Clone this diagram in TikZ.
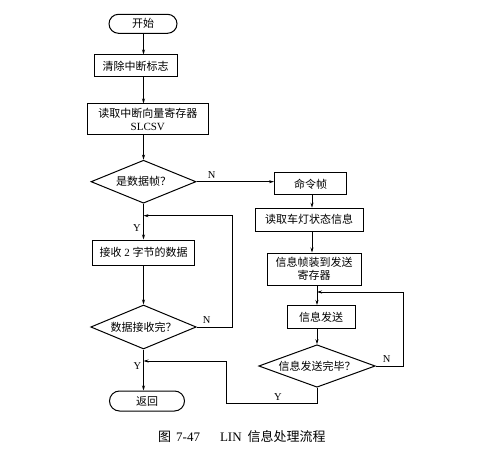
\documentclass[tikz,border=0pt]{standalone}
\usepackage{fontspec}
\setmainfont{Liberation Serif}
\newfontfamily\cjk{Noto Sans CJK SC}
\usetikzlibrary{shapes.geometric,arrows.meta}
\begin{document}
\begin{tikzpicture}[x=1pt,y=-1pt,
  font=\fontsize{11}{12.5}\selectfont,
  box/.style={draw,line width=1pt,inner sep=0pt,align=center},
  term/.style={draw,line width=1pt,rounded corners=9.5pt,inner sep=0pt},
  dia/.style={draw,diamond,line width=1pt,inner sep=0pt},
  conn/.style={line width=0.7pt},
  arr/.style={conn,-{Stealth[length=5pt,width=3pt]}},
  lab/.style={font=\fontsize{10.5}{12}\selectfont}]
\useasboundingbox (0,0) rectangle (500,454);
% left column
\node[term,minimum width=68pt,minimum height=19pt] (start) at (143,23.8) {\cjk 开始};
\node[box,minimum width=83pt,minimum height=22pt] (clear) at (135.5,66) {\cjk 清除中断标志};
\node[box,minimum width=121pt,minimum height=31pt] (read) at (147.8,119.5) {{\cjk 读取中断向量寄存器}\\SLCSV};
\node[dia,shape aspect=2.44,minimum width=105pt,minimum height=43pt] (d1) at (143.5,181.7) {\cjk 是数据帧？};
\node[box,minimum width=102pt,minimum height=25pt] (recv) at (143.5,252.5) {{\cjk 接收} 2 {\cjk 字节的数据}};
\node[dia,shape aspect=2.4,minimum width=105.5pt,minimum height=44pt] (d2) at (143.5,327) {\cjk 数据接收完？};
\node[term,minimum width=75pt,minimum height=20pt,rounded corners=10pt] (ret) at (147,401) {\cjk 返回};
% right column
\node[box,minimum width=72pt,minimum height=22pt] (cmd) at (310.5,184) {\cjk 命令帧};
\node[box,minimum width=108pt,minimum height=23pt] (state) at (309,219.7) {\cjk 读取车灯状态信息};
\node[box,minimum width=94pt,minimum height=32pt] (pack) at (314,269) {\cjk 信息帧装到发送\\\cjk 寄存器};
\node[box,minimum width=68pt,minimum height=23pt] (send) at (321,317) {\cjk 信息发送};
\node[dia,shape aspect=2.74,minimum width=116.5pt,minimum height=42.5pt] (d3) at (317,366) {\cjk 信息发送完毕？};
% helper coordinates
\coordinate (cx) at (143.5,0);
\coordinate (rx) at (312,0);
\coordinate (rx2) at (317,0);
\coordinate (m1) at (232.7,215.7);
\coordinate (m2) at (403,292);
\coordinate (m3) at (226.7,403);
\coordinate (m4) at (226.7,361);
% connectors
\draw[arr] (start.south -| cx) -- (clear.north -| cx);
\draw[arr] (clear.south -| cx) -- (read.north -| cx);
\draw[arr] (read.south -| cx) -- (d1.north);
\draw[arr] (d1.east) -- (d1.east -| cmd.west);
\draw[arr] (d1.south) -- (recv.north);
\draw[arr] (recv.south) -- (d2.north);
\draw[arr] (d2.east) -| (m1) -- (m1 -| cx);
\draw[arr] (d2.south) -- (ret.north -| cx);
\draw[arr] (cmd.south -| rx) -- (state.north -| rx);
\draw[arr] (state.south -| rx) -- (pack.north -| rx);
\draw[arr] (pack.south -| rx2) -- (send.north -| rx2);
\draw[arr] (send.south -| rx2) -- (d3.north);
\draw[arr] (d3.east) -| (m2) -- (m2 -| rx2);
\draw[arr] (d3.south) |- (m3) -- (m4) -- (m4 -| cx);
% labels
\node[lab] (n1) at (211.7,175) {N};
\node[lab] (y1) at (137,228) {Y};
\node[lab] (n2) at (206.7,320) {N};
\node[lab] (y2) at (137.3,366) {Y};
\node[lab] (n3) at (386.7,359) {N};
\node[lab] (y3) at (278,396.7) {Y};
% caption
\node[anchor=west,inner sep=0pt,font=\fontsize{13}{15}\selectfont] (cap) at (158,437) {{\cjk 图}\hspace{5pt}7-47\hspace{20pt}LIN\hspace{6pt}{\cjk 信息处理流程}};
\end{tikzpicture}
\end{document}
